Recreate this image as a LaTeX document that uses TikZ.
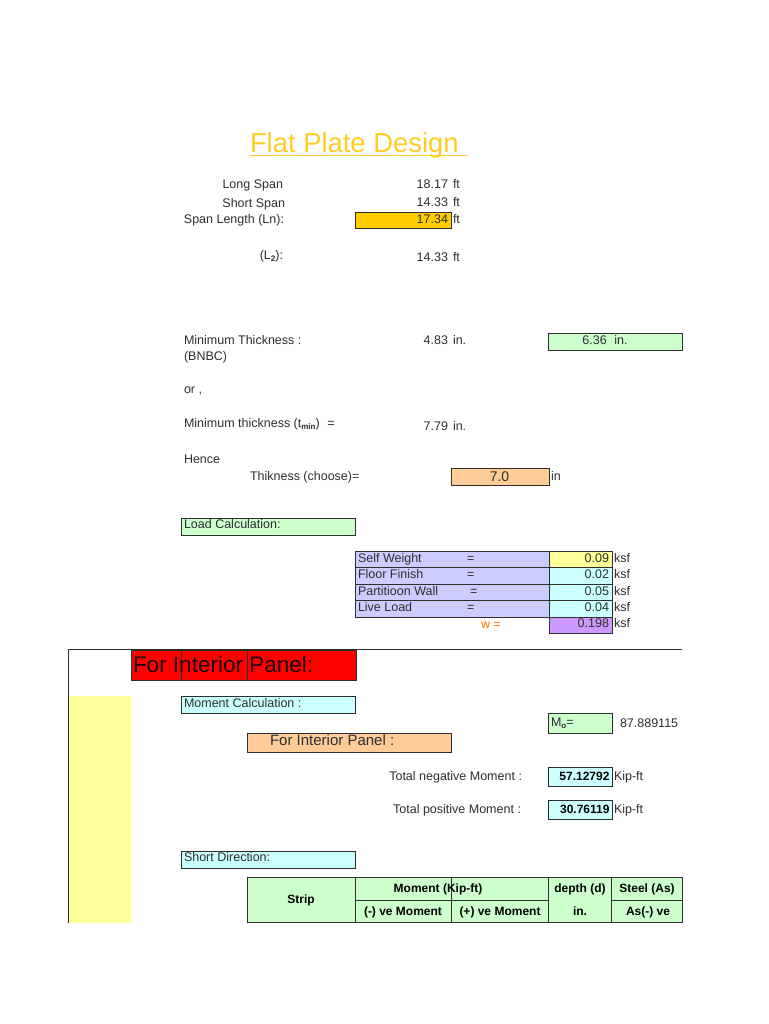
\documentclass[tikz,border=0pt]{standalone}
\usepackage{fontspec}
\setmainfont{Liberation Sans}
\definecolor{ink}{HTML}{2E2E2E}
\definecolor{gold}{HTML}{FFCC00}
\definecolor{titlec}{HTML}{FFCC22}
\definecolor{mint}{HTML}{CCFFCC}
\definecolor{peach}{HTML}{FFCC99}
\definecolor{lav}{HTML}{CCCCFF}
\definecolor{pale}{HTML}{CCFFFF}
\definecolor{lemon}{HTML}{FFFF99}
\definecolor{purp}{HTML}{CC99FF}
\newcommand\fs[1]{\fontsize{#1}{#1}\selectfont}
\newcommand\sbs[1]{\raisebox{-2.5pt}{\fs{8}\bfseries #1}}
\tikzset{
  x=1pt,y=-1pt,
  cellbox/.style={draw=ink,line width=1pt,inner sep=0pt,outer sep=0pt,anchor=north west},
  txt/.style={inner sep=0pt,outer sep=0pt,text=ink,font=\fs{12.5}},
  L/.style={txt,anchor=base west},
  R/.style={txt,anchor=base east},
  C/.style={txt,anchor=base},
  bold/.style={font=\fs{12}\bfseries,text=black},
  rule/.style={draw=ink,line width=1pt}
}
% name, x1, y1, x2, y2, fill
\newcommand\cellb[6]{%
  \pgfmathsetlengthmacro\cw{(#4-#2)*1pt}\pgfmathsetlengthmacro\ch{(#5-#3)*1pt}%
  \node[cellbox,fill=#6,minimum width=\cw,minimum height=\ch] (#1) at (#2,#3) {};}
\begin{document}
\begin{tikzpicture}
\useasboundingbox[fill=white] (0,0) rectangle (768,1024);
% Title
\node[L,font=\fs{27.4},text=titlec] (title) at (250,153) {Flat Plate Design};
\fill[titlec] (250,154.6) rectangle (468,156.4);
% Spans
\node[R] (longlbl) at (283,189) {Long Span};
\node[R] (shortlbl) at (285,208) {Short Span};
\node[R] (lnlbl) at (284,223) {Span Length (Ln):};
\node[R] (l2lbl) at (283,259) {(L\sbs{2}):};
\cellb{lnbox}{355.5}{212.5}{451.5}{229}{gold}
\node[R] (v1) at (448,189) {18.17}; \node[L] (u1) at (453,189) {ft};
\node[R] (v2) at (448,207) {14.33}; \node[L] (u2) at (453,207) {ft};
\node[R] (v3) at (448,223) {17.34}; \node[L] (u3) at (453,223) {ft};
\node[R] (v4) at (448,261) {14.33}; \node[L] (u4) at (453,261) {ft};
% Thickness
\node[L] (minth) at (184,344) {Minimum Thickness :};
\node[L] (bnbc) at (184,360) {(BNBC)};
\node[L] (orl) at (184,393) {or ,};
\node[L] (mint2) at (184,427) {Minimum thickness (t\sbs{min})\,\, =};
\node[L] (hence) at (184,463) {Hence};
\node[L] (thik) at (250,480) {Thikness (choose)=};
\node[R] (v5) at (448,344) {4.83}; \node[L] (u5) at (453,344) {in.};
\node[R] (v6) at (448,430) {7.79}; \node[L] (u6) at (453,430) {in.};
\cellb{tbox}{548.5}{333}{682.5}{350}{mint}
\node[C] (tval) at (605,344) {6.36\,\, in.};
\cellb{chbox}{451.5}{468}{549}{485}{peach}
\node[C,font=\fs{14}] (chval) at (499.5,481) {7.0};
\node[L] (chunit) at (551,480) {in};
% Load
\cellb{loadbox}{181.5}{518}{355.5}{535}{mint}
\node[L] (loadt) at (184,528) {Load Calculation:};
\cellb{r1}{355.5}{551}{549}{567.5}{lav}
\cellb{r2}{355.5}{567.5}{549}{584}{lav}
\cellb{r3}{355.5}{584}{549}{600.5}{lav}
\cellb{r4}{355.5}{600.5}{549}{617}{lav}
\cellb{c1}{549}{551}{612}{567.5}{lemon}
\cellb{c2}{549}{567.5}{612}{584}{pale}
\cellb{c3}{549}{584}{612}{600.5}{pale}
\cellb{c4}{549}{600.5}{612}{617}{pale}
\cellb{c5}{549}{617}{612}{633.5}{purp}
\node[L] (a1) at (358,562) {Self Weight}; \node[L] (e1) at (467,562) {=};
\node[L] (a2) at (358,578) {Floor Finish}; \node[L] (e2) at (467,578) {=};
\node[L] (a3) at (358,595) {Partitioon Wall}; \node[L] (e3) at (470,595) {=};
\node[L] (a4) at (358,611) {Live Load}; \node[L] (e4) at (467,611) {=};
\node[L,text=orange!90!red] (wl) at (481,628) {w =};
\node[R] (b1) at (609,562) {0.09}; \node[L] (k1) at (614,562) {ksf};
\node[R] (b2) at (609,578) {0.02}; \node[L] (k2) at (614,578) {ksf};
\node[R] (b3) at (609,595) {0.05}; \node[L] (k3) at (614,595) {ksf};
\node[R] (b4) at (609,611) {0.04}; \node[L] (k4) at (614,611) {ksf};
\node[R] (b5) at (609,627) {0.198}; \node[L] (k5) at (614,627) {ksf};
% Panel frame
\fill[lemon] (69,696) rectangle (130.5,922.5);
\coordinate (fa) at (68,922.5); \coordinate (fb) at (68,649.5); \coordinate (fc) at (682,649.5);
\draw[rule] (fa) -- (fb) -- (fc);
\cellb{red1}{131}{650}{181.5}{680}{red}
\cellb{red2}{181.5}{650}{247.5}{680}{red}
\cellb{red3}{247.5}{650}{356}{680}{red}
\node[L,font=\fs{22.5},text=black!90!red] (redt) at (133,672) {For Interior Panel:};
\cellb{mcbox}{181.5}{696}{355.5}{713}{pale}
\node[L] (mct) at (184,707) {Moment Calculation :};
\cellb{mobox}{548.5}{713}{612}{733}{mint}
\node[L] (mot) at (551,726) {M\sbs{o}=};
\node[L] (moval) at (620,727) {87.889115};
\cellb{fipbox}{247.5}{733}{451.5}{752}{peach}
\node[L,font=\fs{15}] (fipt) at (270,745) {For Interior Panel :};
\node[R] (tn) at (522,780) {Total negative Moment :};
\node[R] (tp) at (521,813) {Total positive Moment :};
\cellb{nbox}{548.5}{767}{612}{786}{pale}
\cellb{pbox}{548.5}{800}{612}{819}{pale}
\node[R,bold] (nv) at (609.5,780) {57.12792}; \node[L] (nu) at (614,780) {Kip-ft};
\node[R,bold] (pv) at (609.5,813) {30.76119}; \node[L] (pu) at (614,813) {Kip-ft};
% Short direction table
\cellb{sdbox}{181.5}{851}{355.5}{868}{pale}
\node[L] (sdt) at (184,861) {Short Direction:};
\cellb{t1}{247.5}{877}{355.5}{922.5}{mint}
\cellb{t2}{355.5}{877}{548.5}{900}{mint}
\cellb{t3}{355.5}{900}{451.5}{922.5}{mint}
\cellb{t4}{451.5}{900}{548.5}{922.5}{mint}
\cellb{t5}{548.5}{877}{611.5}{922.5}{mint}
\cellb{t6}{611.5}{877}{682.5}{900}{mint}
\cellb{t7}{611.5}{900}{682.5}{922.5}{mint}
\coordinate (da) at (451.5,877); \coordinate (db) at (451.5,900);
\draw[rule] (da) -- (db);
\node[C,bold] (h1) at (301,903) {Strip};
\node[C,bold] (h2) at (438,892) {Moment (Kip-ft)};
\node[C,bold] (h3) at (580,892) {depth (d)};
\node[C,bold] (h4) at (647,892) {Steel (As)};
\node[C,bold] (s1) at (403,915) {(-) ve Moment};
\node[C,bold] (s2) at (500,915) {(+) ve Moment};
\node[C,bold] (s3) at (580,915) {in.};
\node[C,bold] (s4) at (648,915) {As(-) ve};
\end{tikzpicture}
\end{document}
